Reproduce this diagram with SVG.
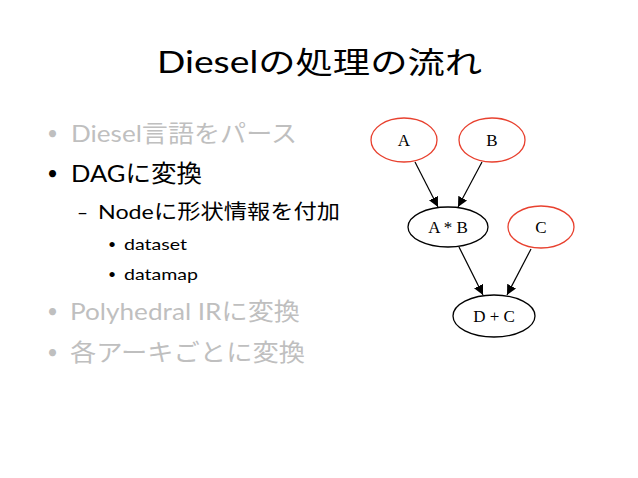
<svg xmlns="http://www.w3.org/2000/svg" width="638" height="478" viewBox="0 0 638 478">
<style>
.t{font-family:Lato,"Noto Sans CJK JP",sans-serif;}
.blk{fill:#000000;}
.gry{fill:#bfbfbf;}
.n{fill:#ffffff;stroke-width:1.3;}
.red{stroke:#e8412f;}
.bk{stroke:#000000;}
.lbl{font-family:"Liberation Serif",serif;font-size:17px;fill:#000000;text-anchor:middle;}
.e{stroke:#000000;stroke-width:1.2;fill:none;marker-end:url(#ah);}
</style>
<defs>
<marker id="ah" viewBox="0 0 10 10" refX="10" refY="5" markerWidth="10" markerHeight="10" markerUnits="userSpaceOnUse" orient="auto">
<path d="M0,0 L10,5 L0,10 z" fill="#000000"/>
</marker>
</defs>
<rect width="638" height="478" fill="#ffffff"/>
<text class="t blk" x="157" y="73" font-size="30" textLength="325" lengthAdjust="spacingAndGlyphs">Dieselの処理の流れ</text>
<g id="bullets">
<text class="t gry" x="47" y="140" font-size="19">•</text>
<text class="t gry" x="71" y="142" font-size="24" textLength="226" lengthAdjust="spacingAndGlyphs">Diesel言語をパース</text>
<text class="t blk" x="47" y="180" font-size="19">•</text>
<text class="t blk" x="71" y="182" font-size="24" textLength="131" lengthAdjust="spacingAndGlyphs">DAGに変換</text>
<text class="t blk" x="77" y="219" font-size="20" textLength="11" lengthAdjust="spacingAndGlyphs">–</text>
<text class="t blk" x="98" y="219" font-size="20" textLength="242" lengthAdjust="spacingAndGlyphs">Nodeに形状情報を付加</text>
<text class="t blk" x="108" y="249" font-size="14">•</text>
<text class="t blk" x="124" y="250" font-size="16" textLength="63" lengthAdjust="spacingAndGlyphs">dataset</text>
<text class="t blk" x="108" y="279" font-size="14">•</text>
<text class="t blk" x="124" y="280" font-size="16" textLength="74" lengthAdjust="spacingAndGlyphs">datamap</text>
<text class="t gry" x="47" y="318" font-size="19">•</text>
<text class="t gry" x="70" y="320" font-size="24" textLength="230" lengthAdjust="spacingAndGlyphs">Polyhedral IRに変換</text>
<text class="t gry" x="47" y="359" font-size="19">•</text>
<text class="t gry" x="70" y="361" font-size="24" textLength="235" lengthAdjust="spacingAndGlyphs">各アーキごとに変換</text>
</g>
<g id="connectors">
<path class="e" d="M415,162 L438,207"/>
<path class="e" d="M482,162 L458,207"/>
<path class="e" d="M459,247 L483,295"/>
<path class="e" d="M531,249 L507,295"/>
</g>
<g id="nA"><ellipse class="n red" cx="404" cy="140" rx="33" ry="22"/><text class="lbl" x="404" y="146">A</text></g>
<g id="nB"><ellipse class="n red" cx="492" cy="140" rx="33" ry="22"/><text class="lbl" x="492" y="146">B</text></g>
<g id="nAB"><ellipse class="n bk" cx="448" cy="227" rx="40" ry="20"/><text class="lbl" x="448" y="233">A * B</text></g>
<g id="nC"><ellipse class="n red" cx="541" cy="227" rx="33" ry="21"/><text class="lbl" x="541" y="233">C</text></g>
<g id="nDC"><ellipse class="n bk" cx="494" cy="316" rx="41" ry="21"/><text class="lbl" x="494" y="322">D + C</text></g>
</svg>
